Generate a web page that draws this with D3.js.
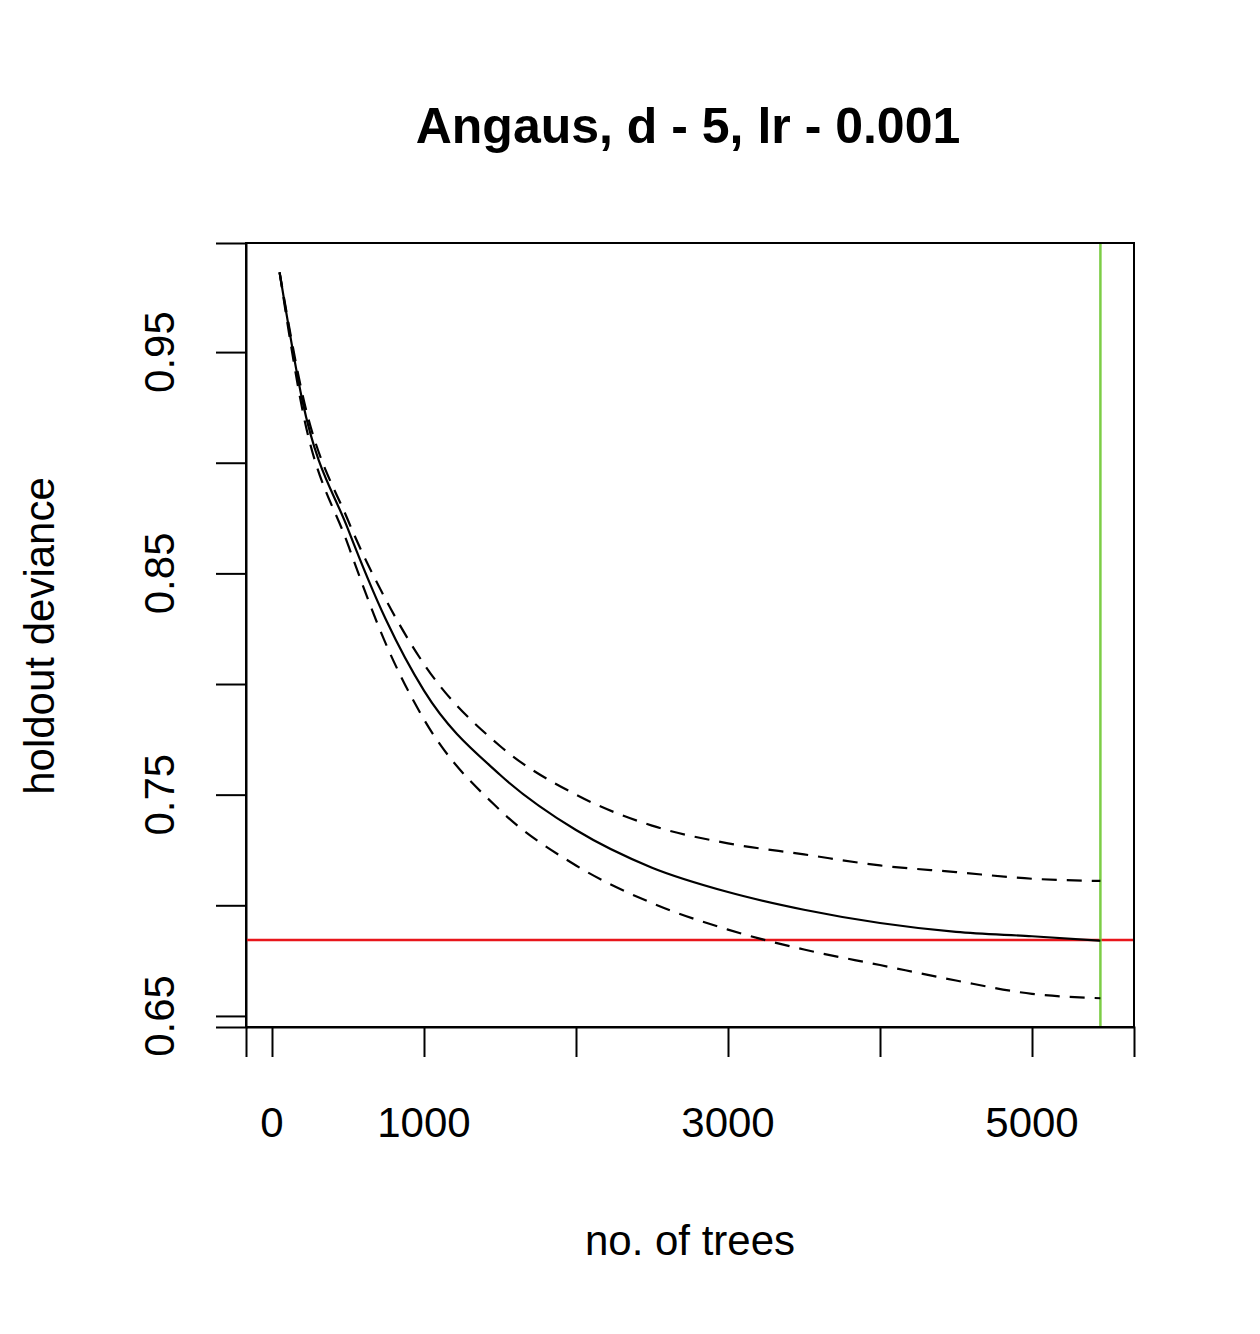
<!DOCTYPE html>
<html><head><meta charset="utf-8">
<script src="https://cdn.jsdelivr.net/npm/d3@7"></script>
<style>body{margin:0;background:#fff}</style>
</head><body>
<svg width="1260" height="1334"></svg>
<script>
// values
let trees = [50, 200, 500, 750, 1000, 1500, 2000, 2500, 3000, 3500, 4000, 4500, 5000, 5450];
let meanDev = [0.986, 0.928, 0.870, 0.829, 0.797, 0.759, 0.734, 0.717, 0.706, 0.698, 0.692, 0.688, 0.686, 0.684];
let upperDev = [0.986, 0.931, 0.874, 0.838, 0.809, 0.772, 0.750, 0.736, 0.728, 0.723, 0.718, 0.715, 0.712, 0.711];
let lowerDev = [0.986, 0.924, 0.863, 0.818, 0.784, 0.743, 0.718, 0.701, 0.689, 0.680, 0.673, 0.666, 0.660, 0.658];
let bestTrees = 5450;
let minDev = 0.6843;
let xTicks = [0, 1000, 2000, 3000, 4000, 5000];
let xLabels = [0, 1000, 3000, 5000];
let yTicks = [0.65, 0.70, 0.75, 0.80, 0.85, 0.90, 0.95];
let yLabels = [0.65, 0.75, 0.85, 0.95];

let svg = d3.select('svg'),
    font = 'Liberation Sans, Arial, sans-serif';
let pLeft = 246, pRight = 1134, pTop = 243, pBottom = 1027;

let x = d3.scaleLinear().domain([-171, 5671]).range([pLeft, pRight]);
let y = d3.scaleLinear().domain([0.645, 0.9993]).range([pBottom, pTop]);

svg.append('text').attr('x', 688).attr('y', 143).attr('text-anchor', 'middle')
  .attr('font-family', font).attr('font-weight', 'bold').attr('font-size', 50)
  .text('Angaus, d - 5, lr - 0.001');

// axes
svg.append('g').attr('transform', 'translate(0,' + pBottom + ')')
  .call(d3.axisBottom(x).tickValues(xTicks).tickSize(30).tickFormat(''))
  .call(g => g.selectAll('line,path').attr('stroke', '#000').attr('stroke-width', 2));
svg.append('g').attr('transform', 'translate(' + pLeft + ',0)')
  .call(d3.axisLeft(y).tickValues(yTicks).tickSize(30).tickFormat(''))
  .call(g => g.selectAll('line,path').attr('stroke', '#000').attr('stroke-width', 2));

svg.selectAll('.xl').data(xLabels).enter().append('text')
  .attr('x', d => x(d)).attr('y', 1137).attr('text-anchor', 'middle')
  .attr('font-family', font).attr('font-size', 42).text(d => d);
svg.selectAll('.yl').data(yLabels).enter().append('text')
  .attr('transform', d => 'translate(174,' + y(d) + ') rotate(-90)')
  .attr('text-anchor', 'middle').attr('font-family', font).attr('font-size', 42)
  .text(d => d.toFixed(2));

svg.append('text').attr('x', 690).attr('y', 1255).attr('text-anchor', 'middle')
  .attr('font-family', font).attr('font-size', 42).text('no. of trees');
svg.append('text').attr('transform', 'translate(54,636) rotate(-90)')
  .attr('text-anchor', 'middle').attr('font-family', font).attr('font-size', 42)
  .text('holdout deviance');

// reference lines
svg.append('line').attr('x1', pLeft).attr('x2', pRight).attr('y1', y(minDev)).attr('y2', y(minDev))
  .attr('stroke', '#e8161b').attr('stroke-width', 2.5);
svg.append('line').attr('x1', x(bestTrees)).attr('x2', x(bestTrees)).attr('y1', pTop).attr('y2', pBottom)
  .attr('stroke', '#7ccd45').attr('stroke-width', 2.5);

let line = vals => d3.line().curve(d3.curveMonotoneX)
  .x((d, i) => x(trees[i])).y(d => y(d))(vals);
svg.append('path').attr('d', line(meanDev)).attr('fill', 'none').attr('stroke', '#000').attr('stroke-width', 2.2);
[upperDev, lowerDev].forEach(v => {
  svg.append('path').attr('d', line(v)).attr('fill', 'none').attr('stroke', '#000')
    .attr('stroke-width', 2.2).attr('stroke-dasharray', '15,10');
});

svg.append('rect').attr('x', pLeft).attr('y', pTop).attr('width', pRight - pLeft).attr('height', pBottom - pTop)
  .attr('fill', 'none').attr('stroke', '#000').attr('stroke-width', 2);
</script>
</body></html>
